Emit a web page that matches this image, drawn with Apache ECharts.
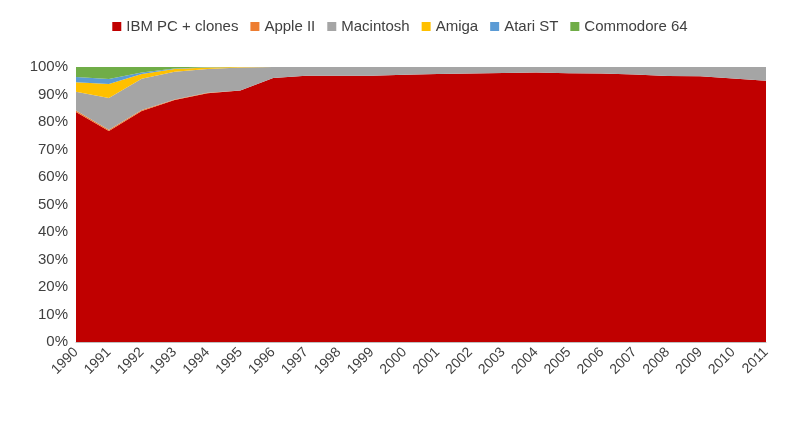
<!DOCTYPE html>
<html><head><meta charset="utf-8">
<script src="https://cdn.jsdelivr.net/npm/echarts@6/dist/echarts.min.js"></script>
<style>html,body{margin:0;background:#fff}#c{width:800px;height:441px}</style>
</head><body><div id="c"></div>
<script>
var years = ['1990','1991','1992','1993','1994','1995','1996','1997','1998','1999','2000','2001','2002','2003','2004','2005','2006','2007','2008','2009','2010','2011'];
var ibm = [83.6,76.7,84,88,90.5,91.5,96,96.8,96.8,96.8,97.2,97.5,97.6,97.8,98,97.7,97.6,97.3,96.7,96.6,95.8,95];
var apple2 = [0.6,0.5,0.4,0.2,0.1,0,0,0,0,0,0,0,0,0,0,0,0,0,0,0,0,0];
var amiga = [3.5,5.1,1.8,1,0.5,0.2,0,0,0,0,0,0,0,0,0,0,0,0,0,0,0,0];
var atari = [1.9,1.8,0.5,0.2,0.1,0,0,0,0,0,0,0,0,0,0,0,0,0,0,0,0,0];
var c64 = [3.6,4.4,2,0.5,0.1,0,0,0,0,0,0,0,0,0,0,0,0,0,0,0,0,0];
var mac = years.map(function (y, i) {
    return +(100 - ibm[i] - apple2[i] - amiga[i] - atari[i] - c64[i]).toFixed(2);
});

var chart = echarts.init(document.getElementById('c'));
function s(name, data, color) {
    return {name: name, type: 'line', stack: 'all', data: data, symbol: 'none',
        lineStyle: {width: 0}, areaStyle: {color: color, opacity: 1}, itemStyle: {color: color}};
}
chart.setOption({
    animation: false,
    textStyle: {fontFamily: 'Liberation Sans'},
    legend: {top: 14, left: 'center', itemWidth: 9, itemHeight: 9, itemGap: 12, icon: 'rect',
        textStyle: {fontSize: 15, color: '#404040'}},
    grid: {left: 76, right: 34, top: 67, bottom: 99},
    xAxis: {type: 'category', data: years, boundaryGap: false,
        axisLine: {lineStyle: {color: '#bfbfbf'}}, axisTick: {show: false},
        axisLabel: {rotate: 45, fontSize: 14, color: '#404040', interval: 0}},
    yAxis: {type: 'value', min: 0, max: 100, interval: 10,
        axisLabel: {formatter: '{value}%', fontSize: 15, color: '#404040'},
        splitLine: {show: false}, axisLine: {show: false}, axisTick: {show: false}},
    series: [
        s('IBM PC + clones', ibm, '#c00000'),
        s('Apple II', apple2, '#ed7d31'),
        s('Macintosh', mac, '#a5a5a5'),
        s('Amiga', amiga, '#ffc000'),
        s('Atari ST', atari, '#5b9bd5'),
        s('Commodore 64', c64, '#70ad47')
    ]
});
</script></body></html>
